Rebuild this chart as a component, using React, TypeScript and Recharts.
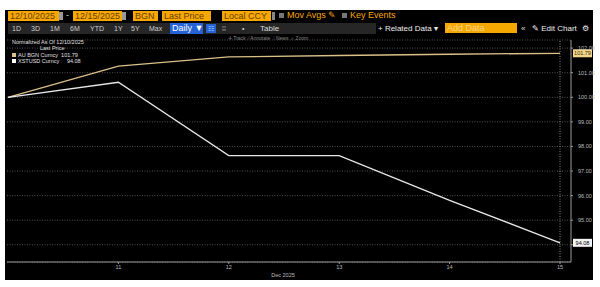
import React from 'react'
import { LineChart, Line, XAxis, YAxis, CartesianGrid, ReferenceLine } from 'recharts'

const days = [10, 11, 12, 13, 14, 15]
const auBgn = [100, 101.27, 101.64, 101.7, 101.75, 101.79]
const xstUsd = [100, 100.61, 97.63, 97.63, 95.81, 94.08]
const xTicks = [11, 12, 13, 14, 15]
const yTicks = [94, 95, 96, 97, 98, 99, 100, 101, 102]
const periods = ['1D', '3D', '1M', '6M', 'YTD', '1Y', '5Y', 'Max']

const data = days.map((d, i) => ({ day: d, au: auBgn[i], xst: xstUsd[i] }))

const ORANGE = '#f6a800'
const TAN = '#dcc08a'
const FONT = '"Liberation Sans", Arial, sans-serif'

const box = (left: number, width: number, text: string, top = 11, h = 10, bg = ORANGE, color = '#6b3d00') => (
  <div style={{
    position: 'absolute', left, top, width, height: h, background: bg, color,
    fontSize: 9, lineHeight: h + 'px', paddingLeft: 2, boxSizing: 'border-box', whiteSpace: 'nowrap', overflow: 'hidden'
  }}>{text}</div>
)

const badge = (bg: string, color: string, text: string) => (props: any) => {
  const { viewBox } = props
  const x = viewBox.x + viewBox.width + 2
  const y = viewBox.y
  return (
    <g>
      <rect x={x} y={y - 4} width={19} height={8} fill={bg} />
      <text x={x + 9.5} y={y + 2} fontSize={5.5} fill={color} textAnchor="middle" fontFamily={FONT}>{text}</text>
    </g>
  )
}

const YTick = (props: any) => {
  const { x, y, payload } = props
  if (payload.value === 94) return null
  return (
    <text x={x + 3} y={y + 2} fontSize={5.5} fill="#bdbdbd" fontFamily={FONT}>{payload.value.toFixed(2)}</text>
  )
}

export default function App() {
  const lastAu = auBgn[auBgn.length - 1]
  const lastXst = xstUsd[xstUsd.length - 1]
  return (
    <div style={{ position: 'relative', width: 600, height: 287, background: '#fff', fontFamily: FONT, overflow: 'hidden' }}>
      <style>{`body{margin:0}`}</style>
      <div style={{ position: 'absolute', left: 5, top: 10, width: 588, height: 270, background: '#000' }} />

      {/* toolbar row 1 */}
      {box(8, 51, '12/10/2025')}
      <div style={{ position: 'absolute', left: 59, top: 12, width: 4, height: 8, background: '#999' }} />
      <div style={{ position: 'absolute', left: 66, top: 10, color: '#ccc', fontSize: 9 }}>-</div>
      {box(73, 49, '12/15/2025')}
      <div style={{ position: 'absolute', left: 122, top: 12, width: 4, height: 8, background: '#999' }} />
      {box(133, 25, 'BGN')}
      {box(162, 49, 'Last Price')}
      {box(222, 49, 'Local CCY')}
      <div style={{ position: 'absolute', left: 272, top: 12, width: 3, height: 8, background: '#888' }} />
      <div style={{ position: 'absolute', left: 279, top: 13, width: 5, height: 5, background: '#777' }} />
      <div style={{ position: 'absolute', left: 287, top: 10, color: ORANGE, fontSize: 9, whiteSpace: 'nowrap' }}>Mov Avgs ✎</div>
      <div style={{ position: 'absolute', left: 342, top: 13, width: 5, height: 5, background: '#777' }} />
      <div style={{ position: 'absolute', left: 350, top: 10, color: ORANGE, fontSize: 9, whiteSpace: 'nowrap' }}>Key Events</div>

      {/* toolbar row 2 */}
      <div style={{ position: 'absolute', left: 8, top: 23, width: 368, height: 11, background: '#262626' }} />
      {periods.map((p, i) => (
        <div key={p} style={{
          position: 'absolute', left: [12, 31, 50, 70, 90, 114, 131, 149][i], top: 23, height: 11,
          lineHeight: '11px', color: '#d0d0d0', fontSize: 7
        }}>{p}</div>
      ))}
      {box(170, 33, 'Daily ▼', 23, 11, '#2462d6', '#fff')}
      <div style={{ position: 'absolute', left: 206, top: 24, width: 10, height: 9, background: '#2462d6', color: '#9cf', fontSize: 7, lineHeight: '9px', textAlign: 'center' }}>☷</div>
      <div style={{ position: 'absolute', left: 222, top: 23, color: '#ccc', fontSize: 7, lineHeight: '11px' }}>⁞⁞</div>
      <div style={{ position: 'absolute', left: 242, top: 23, color: '#ccc', fontSize: 7, lineHeight: '11px' }}>•</div>
      <div style={{ position: 'absolute', left: 260, top: 23, color: '#ddd', fontSize: 8, lineHeight: '11px' }}>Table</div>
      <div style={{ position: 'absolute', left: 378, top: 23, color: '#eee', fontSize: 8, lineHeight: '11px', whiteSpace: 'nowrap' }}>+ Related Data ▾</div>
      {box(445, 72, 'Add Data', 23, 10, ORANGE, '#f8d58a')}
      <div style={{ position: 'absolute', left: 521, top: 23, color: '#ddd', fontSize: 8, lineHeight: '11px' }}>«</div>
      <div style={{ position: 'absolute', left: 532, top: 23, color: '#eee', fontSize: 8, lineHeight: '11px', whiteSpace: 'nowrap' }}>✎ Edit Chart</div>
      <div style={{ position: 'absolute', left: 582, top: 23, color: '#eee', fontSize: 8, lineHeight: '11px' }}>⚙</div>
      <div style={{ position: 'absolute', left: 228, top: 35, color: '#888', fontSize: 5, whiteSpace: 'nowrap' }}>
        ✛ Track &nbsp;⁄ Annotate &nbsp;⁞ News &nbsp;⌕ Zoom
      </div>

      <div style={{ position: 'absolute', left: 0, top: 0 }}>
        <LineChart width={600} height={287} data={data} margin={{ top: 40, right: 0, left: 7, bottom: 0 }}>
          <CartesianGrid vertical={false} stroke="#505050" strokeDasharray="1 1.5" />
          <XAxis
            dataKey="day" type="number" domain={[10, 15]} ticks={xTicks} padding={{ left: 1, right: 11 }}
            height={25} stroke="#9a9a9a" tick={{ fill: '#bdbdbd', fontSize: 5.5, fontFamily: FONT }}
            tickSize={2} tickMargin={1}
            label={{ value: 'Dec 2025', position: 'insideBottom', offset: 10, fill: '#bdbdbd', fontSize: 5.5, fontFamily: FONT, dx: -6 }}
          />
          <YAxis
            orientation="right" width={29} domain={[93.3, 102.33]} ticks={yTicks} stroke="#9a9a9a"
            tickSize={2} tick={<YTick />} allowDataOverflow
          />
          <ReferenceLine x={15} stroke="#8a8a8a" strokeDasharray="1 1.5" />
          <ReferenceLine y={lastAu} stroke="none" label={badge('#f2d58a', '#3a2a00', lastAu.toFixed(2))} />
          <ReferenceLine y={lastXst} stroke="none" label={badge('#f4f4f4', '#000', lastXst.toFixed(2))} />
          <Line dataKey="au" stroke={TAN} strokeWidth={1.3} dot={false} isAnimationActive={false} />
          <Line dataKey="xst" stroke="#e8e8e8" strokeWidth={1.3} dot={false} isAnimationActive={false} />
        </LineChart>
      </div>

      {/* legend */}
      <div style={{ position: 'absolute', left: 8, top: 39, width: 86, color: '#e0e0e0', fontSize: 5.5, lineHeight: '6.3px', whiteSpace: 'nowrap' }}>
        <div style={{ paddingLeft: 4 }}>Normalized As Of 12/10/2025</div>
        <div style={{ paddingLeft: 32 }}>Last Price</div>
        <div style={{ paddingLeft: 4 }}>
          <span style={{ display: 'inline-block', width: 4, height: 4, background: TAN, marginRight: 2 }} />
          AU BGN Curncy&nbsp; {lastAu.toFixed(2)}
        </div>
        <div style={{ paddingLeft: 4 }}>
          <span style={{ display: 'inline-block', width: 4, height: 4, background: '#fff', marginRight: 2 }} />
          XSTUSD Curncy&nbsp;&nbsp;&nbsp;&nbsp; {lastXst.toFixed(2)}
        </div>
      </div>
    </div>
  )
}
